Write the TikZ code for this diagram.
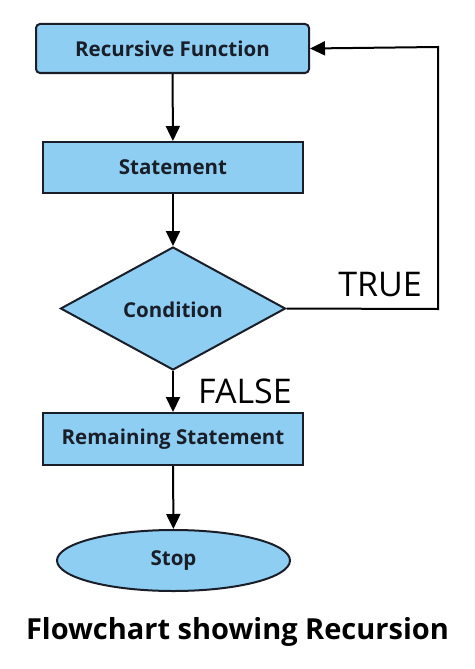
\documentclass[tikz,border=0pt]{standalone}
\usepackage{fontspec}
\setmainfont{Open Sans}
\usetikzlibrary{shapes.geometric,arrows.meta}
\definecolor{boxblue}{RGB}{142,206,242}
\definecolor{edge}{RGB}{25,30,40}
\begin{document}
\begin{tikzpicture}[x=1pt,y=-1pt,
  boxstyle/.style={draw=edge,fill=boxblue,line width=2pt,font=\fontsize{20.5}{24}\selectfont\bfseries,text=edge},
  flow/.style={line width=2pt,-{Triangle[width=14pt,length=15pt]}},
  lbl/.style={font=\fontsize{34}{38}\selectfont,text=black}]
\useasboundingbox (0,0) rectangle (474,669);
\fill[white] (0,0) rectangle (474,669);
\node[boxstyle,rounded corners=4pt,minimum width=273pt,minimum height=49pt] (rf) at (172.5,48.5) {Recursive Function};
\node[boxstyle,minimum width=260pt,minimum height=51pt] (st) at (173,167.5) {Statement};
\node[boxstyle,diamond,minimum width=225pt,minimum height=123pt,inner sep=0pt,aspect=1.83] (cd) at (173,308.5) {};
\node[font=\fontsize{20.5}{24}\selectfont\bfseries,text=edge] at (173,310) {Condition};
\node[boxstyle,minimum width=260pt,minimum height=52pt] (rs) at (173,439) {Remaining Statement};
\node[boxstyle,ellipse,minimum width=233pt,minimum height=61pt,inner sep=0pt] (sp) at (173.5,560.5) {Stop};
\coordinate (c1) at (438,309);
\coordinate (c2) at (438,47);
\draw[flow] (rf) -- (st);
\draw[flow] (st) -- (cd);
\draw[flow] (cd) -- (rs);
\draw[flow] (rs) -- (sp);
\draw[flow] (cd.east) -- (c1) -- (c2) -- (rf.east);
\node[lbl] (t) at (380,285) {TRUE};
\node[lbl] (f) at (245,391) {FALSE};
\node[font=\fontsize{29}{33}\selectfont\bfseries] (cap) at (237.5,632) {Flowchart showing Recursion};
\end{tikzpicture}
\end{document}
